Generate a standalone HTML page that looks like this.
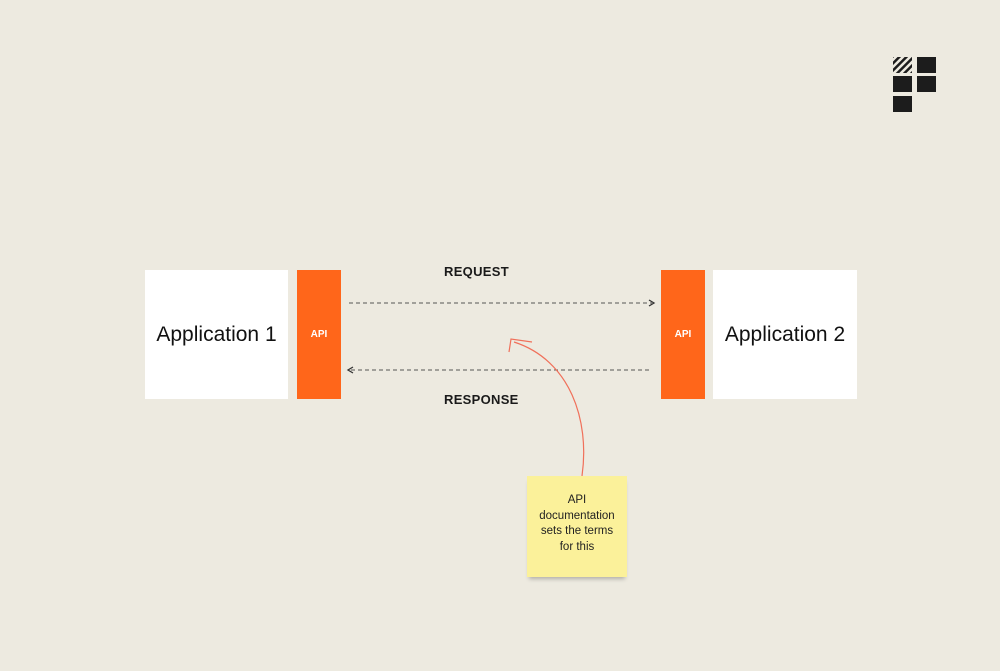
<!DOCTYPE html>
<html><head><meta charset="utf-8"><style>
html,body{margin:0;padding:0}
body{width:1000px;height:671px;background:#edeae0;position:relative;overflow:hidden;font-family:"Liberation Sans",sans-serif}
.box{position:absolute;background:#fff;top:270px;height:129px;display:flex;align-items:center;justify-content:center;font-size:21px;color:#111}
.api{position:absolute;background:#ff661a;top:270px;height:129px;width:44px;display:flex;align-items:center;justify-content:center;color:#fff;font-weight:bold;font-size:10px}
.lbl{position:absolute;font-weight:bold;font-size:13px;color:#1a1a1a;letter-spacing:0.3px}
.note{position:absolute;left:527px;top:476px;width:100px;height:101px;background:#fbf19a;box-shadow:0 4px 4px -2px rgba(0,0,0,0.25);font-size:11.5px;line-height:15.5px;color:#222;text-align:center;box-sizing:border-box;padding-top:17px}
.sq{position:absolute;background:#1c1c1c;width:19px;height:16px}
</style></head><body>
<div class="box" style="left:145px;width:143px">Application 1</div>
<div class="api" style="left:297px">API</div>
<div class="api" style="left:661px">API</div>
<div class="box" style="left:713px;width:144px">Application 2</div>
<div class="lbl" style="left:444px;top:264px">REQUEST</div>
<div class="lbl" style="left:444px;top:392px">RESPONSE</div>
<svg width="1000" height="671" style="position:absolute;left:0;top:0">
<line x1="349" y1="303" x2="652" y2="303" stroke="#555" stroke-width="1" stroke-dasharray="4,3"/>
<path d="M649,300 L654,303 L649,306" fill="none" stroke="#333" stroke-width="1.3"/>
<line x1="351" y1="370" x2="652" y2="370" stroke="#555" stroke-width="1" stroke-dasharray="4,3"/>
<path d="M353,367 L348,370 L353,373" fill="none" stroke="#333" stroke-width="1.3"/>
<path d="M582,476 C590,420 570,360 514,342" fill="none" stroke="#f0705a" stroke-width="1.2"/>
<path d="M509,352 L511,339 L532,342" fill="none" stroke="#f0705a" stroke-width="1.2"/>
<defs><pattern id="h" width="5" height="5" patternUnits="userSpaceOnUse" patternTransform="rotate(45)"><rect width="2.5" height="5" fill="#1c1c1c"/></pattern></defs>
<rect x="893" y="57" width="19" height="16" fill="url(#h)"/>
</svg>
<div class="sq" style="left:917px;top:57px"></div>
<div class="sq" style="left:893px;top:76px"></div>
<div class="sq" style="left:917px;top:76px"></div>
<div class="sq" style="left:893px;top:96px"></div>
<div class="note">API<br>documentation<br>sets the terms<br>for this</div>
</body></html>
